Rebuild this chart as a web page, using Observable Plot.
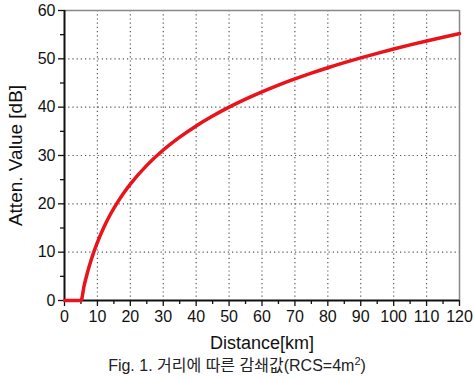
<!DOCTYPE html>
<html><head><meta charset="utf-8">
<script src="https://cdn.jsdelivr.net/npm/d3@7"></script>
<script src="https://cdn.jsdelivr.net/npm/@observablehq/plot@0.6"></script>
<style>
body{margin:0;background:#fff;overflow:hidden;font-family:"Liberation Sans",Arial,sans-serif;}
#cap{position:absolute;left:0;width:474px;top:356px;line-height:20px;text-align:center;font-size:16px;color:#222;font-family:"Liberation Sans","Noto Sans CJK KR",sans-serif;}
</style></head><body>
<div id="chart"></div>
<div id="cap">Fig. 1. 거리에 따른 감쇄값(RCS=4m<sup style="font-size:11px;line-height:0">2</sup>)</div>
<script>
const distance = [0, 5, 6, 7, 8, 9, 10, 12, 14, 16, 18, 20, 25, 30, 35, 40, 45, 50, 55, 60, 65, 70, 75, 80, 85, 90, 95, 100, 105, 110, 115, 120];
const atten    = [0, 0, 3.17, 5.84, 8.16, 10.21, 12.04, 15.21, 17.89, 20.21, 22.25, 24.08, 27.96, 31.13, 33.80, 36.12, 38.17, 40.0, 41.66, 43.17, 44.56, 45.84, 47.04, 48.16, 49.21, 50.20, 51.14, 52.04, 52.89, 53.70, 54.47, 55.22];
const xTicks = [0,10,20,30,40,50,60,70,80,90,100,110,120];
const yTicks = [0,10,20,30,40,50,60];
const xMinor = [5,15,25,35,45,55,65,75,85,95,105,115];
const yMinor = [5,15,25,35,45,55];
const data = distance.map((d,i)=>({d, a: atten[i]}));

const chart = Plot.plot({
  width: 474, height: 356,
  marginTop: 10, marginBottom: 56, marginLeft: 64, marginRight: 15,
  style: {fontFamily: '"Liberation Sans", Arial, sans-serif', fontSize: "16px", color: "#111", background: "#fff"},
  x: {domain: [0,120]},
  y: {domain: [0,60]},
  marks: [
    Plot.ruleX(xTicks.slice(1,-1), {stroke: "#555", strokeDasharray: "1.2,3", strokeWidth: 1.2}),
    Plot.ruleY(yTicks.slice(1,-1), {stroke: "#555", strokeDasharray: "1.2,3", strokeWidth: 1.2}),
    Plot.ruleY([60], {stroke: "#888", strokeWidth: 1.5}),
    Plot.ruleX([120], {stroke: "#888", strokeWidth: 1.5}),
    Plot.axisX({ticks: xMinor, tickSize: 4, text: null, stroke: "#111", strokeWidth: 1.3, label: null}),
    Plot.axisY({ticks: yMinor, tickSize: 4, text: null, stroke: "#111", strokeWidth: 1.3, label: null}),
    Plot.axisX({ticks: xTicks, tickSize: 6, tickPadding: 4, stroke: "#111", strokeWidth: 1.3, fontSize: 16,
      label: "Distance[km]", labelAnchor: "center", labelArrow: "none", labelOffset: 48}),
    Plot.axisY({ticks: yTicks, tickSize: 6, tickPadding: 3, stroke: "#111", strokeWidth: 1.3, fontSize: 16,
      label: "Atten. Value [dB]", labelAnchor: "center", labelArrow: "none", labelOffset: 56}),
    Plot.ruleX([0], {stroke: "#111", strokeWidth: 2}),
    Plot.ruleY([0], {stroke: "#111", strokeWidth: 2}),
    Plot.line(data, {x: "d", y: "a", stroke: "#e8131b", strokeWidth: 3.5, curve: "monotone-x"})
  ]
});
document.getElementById("chart").appendChild(chart);
chart.querySelectorAll("g[aria-label='x-axis label'] text").forEach(t=>t.style.fontSize="18px");
chart.querySelectorAll("g[aria-label='y-axis label'] text").forEach(t=>t.style.fontSize="19px");
</script>
</body></html>
